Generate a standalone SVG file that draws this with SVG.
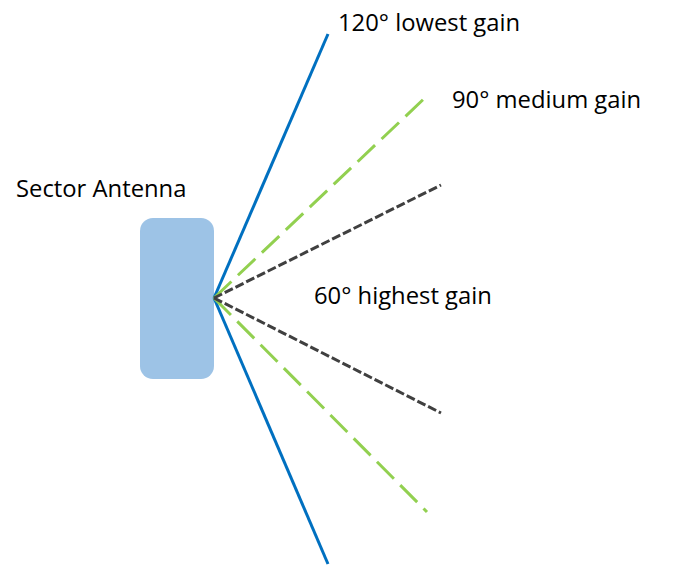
<svg xmlns="http://www.w3.org/2000/svg" width="681" height="567" viewBox="0 0 681 567">
<style>
text{font-family:"Open Sans","Noto Sans",sans-serif;font-size:23.8px;fill:#000}
.blue{stroke:#0070c0;stroke-width:3;fill:none}
.green{stroke:#92d050;stroke-width:3;fill:none;stroke-dasharray:24 9}
.dark{stroke:#404040;stroke-width:3;fill:none;stroke-dasharray:9 3}
</style>
<rect width="681" height="567" fill="#fff"/>
<g id="antenna">
<rect x="140" y="218" width="74" height="161" rx="13" ry="13" fill="#9dc3e6"/>
<text x="16" y="197">Sector Antenna</text>
</g>
<g id="connectors">
<line class="blue" x1="214" y1="298" x2="328" y2="34"/>
<line class="blue" x1="214" y1="298" x2="328" y2="564"/>
<line class="green" x1="214" y1="298" x2="429" y2="94"/>
<line class="green" x1="214" y1="298" x2="427" y2="512"/>
<line class="dark" x1="214" y1="298" x2="441" y2="185"/>
<line class="dark" x1="214" y1="298" x2="441" y2="413"/>
</g>
<g id="label120"><text x="338" y="31">120° lowest gain</text></g>
<g id="label90"><text x="452" y="108">90° medium gain</text></g>
<g id="label60"><text x="314" y="304">60° highest gain</text></g>
</svg>
